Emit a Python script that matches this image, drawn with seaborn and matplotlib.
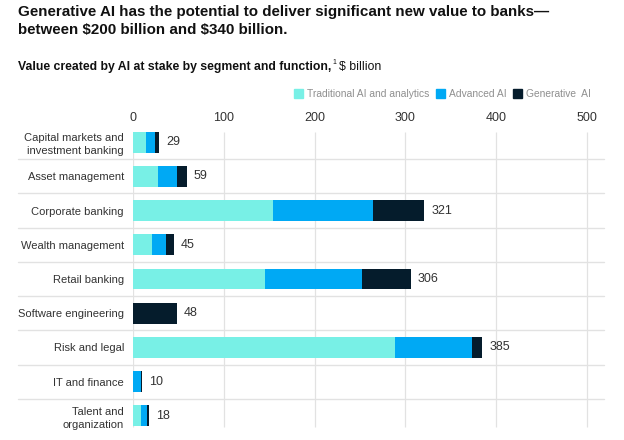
import matplotlib
matplotlib.use("Agg")
import matplotlib.pyplot as plt
from matplotlib.patches import Patch
import numpy as np
import pandas as pd
import seaborn as sns

# Données ($ milliards)
segments = ["Capital markets and\ninvestment banking", "Asset management", "Corporate banking",
            "Wealth management", "Retail banking", "Software engineering", "Risk and legal",
            "IT and finance", "Talent and\norganization"]
traditional = [14, 28, 154, 21, 146, 0, 289, 0, 9]
advanced = [10, 20, 111, 15, 106, 0, 85, 9, 6]
generative = [5, 11, 56, 9, 54, 48, 11, 1, 3]
totals = [29, 59, 321, 45, 306, 48, 385, 10, 18]
x_ticks = [0, 100, 200, 300, 400, 500]

COLOR_TRAD = "#78F0E6"
COLOR_ADV = "#00A9F4"
COLOR_GEN = "#051C2C"
TEXT = "#333333"

df = pd.DataFrame({"segment": segments, "trad": traditional, "adv": advanced, "gen": generative})
df["cum_adv"] = df["trad"] + df["adv"]
df["cum_gen"] = df["cum_adv"] + df["gen"]

sns.set_theme(style="white")
plt.rcParams["font.family"] = ["Liberation Sans", "DejaVu Sans"]

fig = plt.figure(figsize=(6.24, 4.40), dpi=100)
ax = fig.add_axes([133 / 624, 1 - 433 / 440, 471 / 624, 308 / 440])

# Empilement : on dessine les cumuls de l'arrière vers l'avant
for col, colr, z in [("cum_gen", COLOR_GEN, 3), ("cum_adv", COLOR_ADV, 4), ("trad", COLOR_TRAD, 5)]:
    sns.barplot(data=df, x=col, y="segment", color=colr, saturation=1, orient="h", width=0.61,
                linewidth=0, ax=ax, zorder=z)

ax.set_xlim(0, 519)
ax.set_ylim(len(segments) - 0.5, -0.5)
ax.set_xlabel("")
ax.set_ylabel("")
for s in ax.spines.values():
    s.set_visible(False)

ax.xaxis.tick_top()
ax.set_xticks(x_ticks)
ax.set_xticklabels([str(t) for t in x_ticks])
ax.tick_params(axis="x", length=0, pad=1, labelsize=9, labelcolor=TEXT)
ax.tick_params(axis="y", length=0, pad=6.5, labelsize=8, labelcolor=TEXT)
for lab in ax.get_yticklabels():
    lab.set_horizontalalignment("right")
    lab.set_multialignment("right")
    lab.set_linespacing(1.35)

# Grille verticale
ax.vlines(x_ticks, -0.3, 8.33, color="#e2e2e2", linewidth=0.9, zorder=1)

# Séparateurs de lignes
for i in range(len(segments) - 1):
    ax.axhline(i + 0.5, xmin=-115 / 471, xmax=1.0, color="#e2e2e2", linewidth=1.0,
               clip_on=False, zorder=1)

# Valeurs totales
for i, tot in enumerate(totals):
    ax.annotate(str(tot), xy=(df["cum_gen"][i], i), xytext=(5, 0), textcoords="offset points",
                va="center", ha="left", fontsize=9, color=TEXT)

# Légende
handles = [Patch(color=COLOR_TRAD, label="Traditional AI and analytics"),
           Patch(color=COLOR_ADV, label="Advanced AI"),
           Patch(color=COLOR_GEN, label="Generative  AI")]
leg = fig.legend(handles=handles, loc="center right", bbox_to_anchor=(591 / 624, 1 - 94 / 440),
                 ncol=3, frameon=False, fontsize=7.4, handlelength=0.9, handleheight=0.9,
                 handletextpad=0.4, columnspacing=0.6, borderaxespad=0, borderpad=0)
for t in leg.get_texts():
    t.set_color("#8f8f8f")

# Titre
fig.text(18 / 624, 1 - 5 / 440,
         "Generative AI has the potential to deliver significant new value to banks—\n"
         "between \\$200 billion and \\$340 billion.",
         ha="left", va="top", fontsize=10.9, weight="bold", color="#111111", linespacing=1.35)

# Sous-titre : partie en gras, exposant, puis partie normale
renderer = fig.canvas.get_renderer()
sub = fig.text(18 / 624, 1 - 67 / 440, "Value created by AI at stake by segment and function,",
               ha="left", va="center", fontsize=8.8, weight="bold", color="#111111")
bb = sub.get_window_extent(renderer)
sup = fig.text(bb.x1 / fig.bbox.width + 0.002, 1 - 63 / 440, "1", ha="left", va="center",
               fontsize=5, color="#111111")
bb2 = sup.get_window_extent(renderer)
fig.text(bb2.x1 / fig.bbox.width + 0.004, 1 - 67 / 440, "\\$ billion", ha="left", va="center",
         fontsize=8.8, color="#111111")

fig.savefig("out.png", dpi=100)
